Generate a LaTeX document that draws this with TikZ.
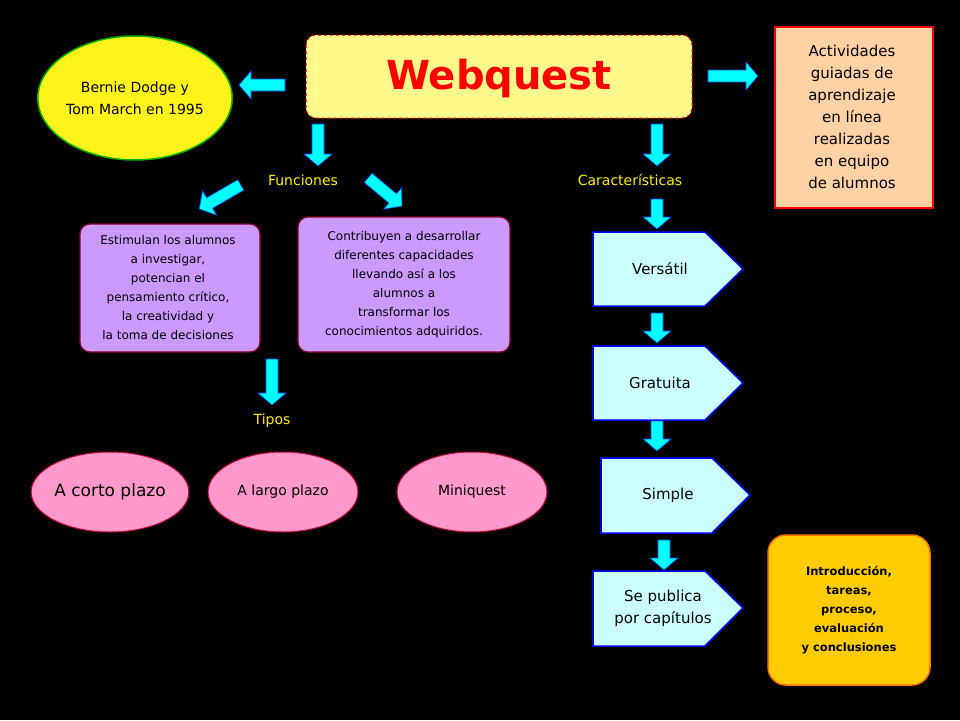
\documentclass[tikz,border=0pt]{standalone}
\usepackage{fontspec}
\setmainfont{DejaVu Sans}
\usetikzlibrary{shapes.geometric}
\definecolor{cy}{HTML}{00FFFF}
\definecolor{pur}{HTML}{CC99FF}
\definecolor{pnk}{HTML}{FF99CC}
\definecolor{lcy}{HTML}{CCFFFF}
\tikzset{
 barrow/.style={fill=cy,draw=blue!70!cyan,line width=0.6pt},
 lbl/.style={text=yellow,font=\fontsize{14}{16}\selectfont},
 pbox/.style={rounded corners=10pt,fill=pur,draw=purple!70!black,line width=1.2pt},
 pel/.style={ellipse,fill=pnk,draw=purple,line width=1pt,minimum width=150pt,minimum height=80pt,font=\fontsize{14}{16}\selectfont},
 pent/.style={fill=lcy,draw=blue,line width=1.5pt},
 tx/.style={align=center,font=\fontsize{14}{17}\selectfont},
}
% \barr{x}{y}{angle}{length}: block arrow centred at (x,y), pointing along angle
\newcommand{\barr}[4]{\draw[barrow,shift={(#1,#2)},rotate=#3]
 (-#4/2,-6) -- (#4/2-12,-6) -- (#4/2-12,-14) -- (#4/2,0) -- (#4/2-12,14) -- (#4/2-12,6) -- (-#4/2,6) -- cycle;}
\begin{document}
\begin{tikzpicture}[x=1pt,y=-1pt]
\fill[black] (0,0) rectangle (960,720);
\useasboundingbox (0,0) rectangle (960,720);
% top
\node[ellipse,fill=yellow!90!white,draw=green!70!black,line width=1.5pt,minimum width=190pt,minimum height=124pt,align=center,font=\fontsize{14}{22}\selectfont,inner sep=0pt] (bd) at (135,98) {Bernie Dodge y\\Tom March en 1995};
\draw[rounded corners=10pt,fill=yellow!45!white,draw=red,dashed,line width=1pt] (306,35) rectangle (692,118);
\node[text=red,font=\bfseries\fontsize{40}{44}\selectfont] (wq) at (499,78) {Webquest};
\barr{262}{85}{180}{46}
\barr{733}{76}{0}{50}
\draw[fill=orange!35!white,draw=red,line width=1.2pt] (775,27) rectangle (933,208);
\node[tx,font=\fontsize{15}{22}\selectfont] (act) at (852,117) {Actividades\\guiadas de\\aprendizaje\\en línea\\realizadas\\en equipo\\de alumnos};
% funciones
\barr{318}{145}{-90}{42}
\barr{657}{145}{-90}{42}
\node[lbl] (fun) at (303,180) {Funciones};
\node[lbl] (car) at (630,180) {Características};
\barr{220}{197}{-150}{48}
\barr{385}{192}{-40}{44}
\draw[pbox] (80,224) rectangle (260,352);
\node[tx,font=\fontsize{12}{19}\selectfont] (f1) at (168,288) {Estimulan los alumnos\\a investigar,\\potencian el\\pensamiento crítico,\\la creatividad y\\la toma de decisiones};
\draw[pbox] (298,217) rectangle (510,352);
\node[tx,font=\fontsize{12}{19}\selectfont] (f2) at (404,285) {Contribuyen a desarrollar\\diferentes capacidades\\llevando así a los\\alumnos a\\transformar los\\conocimientos adquiridos.};
\barr{272}{382}{-90}{46}
\node[lbl] (tip) at (272,421) {Tipos};
\node[pel,minimum width=154pt,font=\fontsize{17}{19}\selectfont,inner sep=0pt] (e1) at (110,492) {A corto plazo};
\node[pel] (e2) at (283,492) {A largo plazo};
\node[pel] (e3) at (472,492) {Miniquest};
% caracteristicas
\barr{657}{214}{-90}{30}
\draw[pent] (593,232) -- (705,232) -- (743,269) -- (705,306) -- (593,306) -- cycle;
\node[tx,font=\fontsize{15}{17}\selectfont] (v) at (660,269) {Versátil};
\barr{657}{328}{-90}{30}
\draw[pent] (593,346) -- (705,346) -- (743,383) -- (705,420) -- (593,420) -- cycle;
\node[tx,font=\fontsize{15}{17}\selectfont] (g) at (660,383) {Gratuita};
\barr{657}{436}{-90}{30}
\draw[pent] (601,458) -- (712,458) -- (750,495) -- (712,533) -- (601,533) -- cycle;
\node[tx,font=\fontsize{15}{17}\selectfont] (s) at (668,495) {Simple};
\barr{664}{555}{-90}{30}
\draw[pent] (593,571) -- (705,571) -- (743,608) -- (705,646) -- (593,646) -- cycle;
\node[tx,font=\fontsize{15}{22}\selectfont] (p) at (663,608) {Se publica\\por capítulos};
\draw[rounded corners=18pt,fill=orange!40!yellow,draw=orange!90!red,line width=1.5pt] (768,535) rectangle (930,685);
\node[tx,font=\bfseries\fontsize{11.5}{19}\selectfont] (intro) at (849,610) {Introducción,\\tareas,\\proceso,\\evaluación\\y conclusiones};
\end{tikzpicture}
\end{document}
